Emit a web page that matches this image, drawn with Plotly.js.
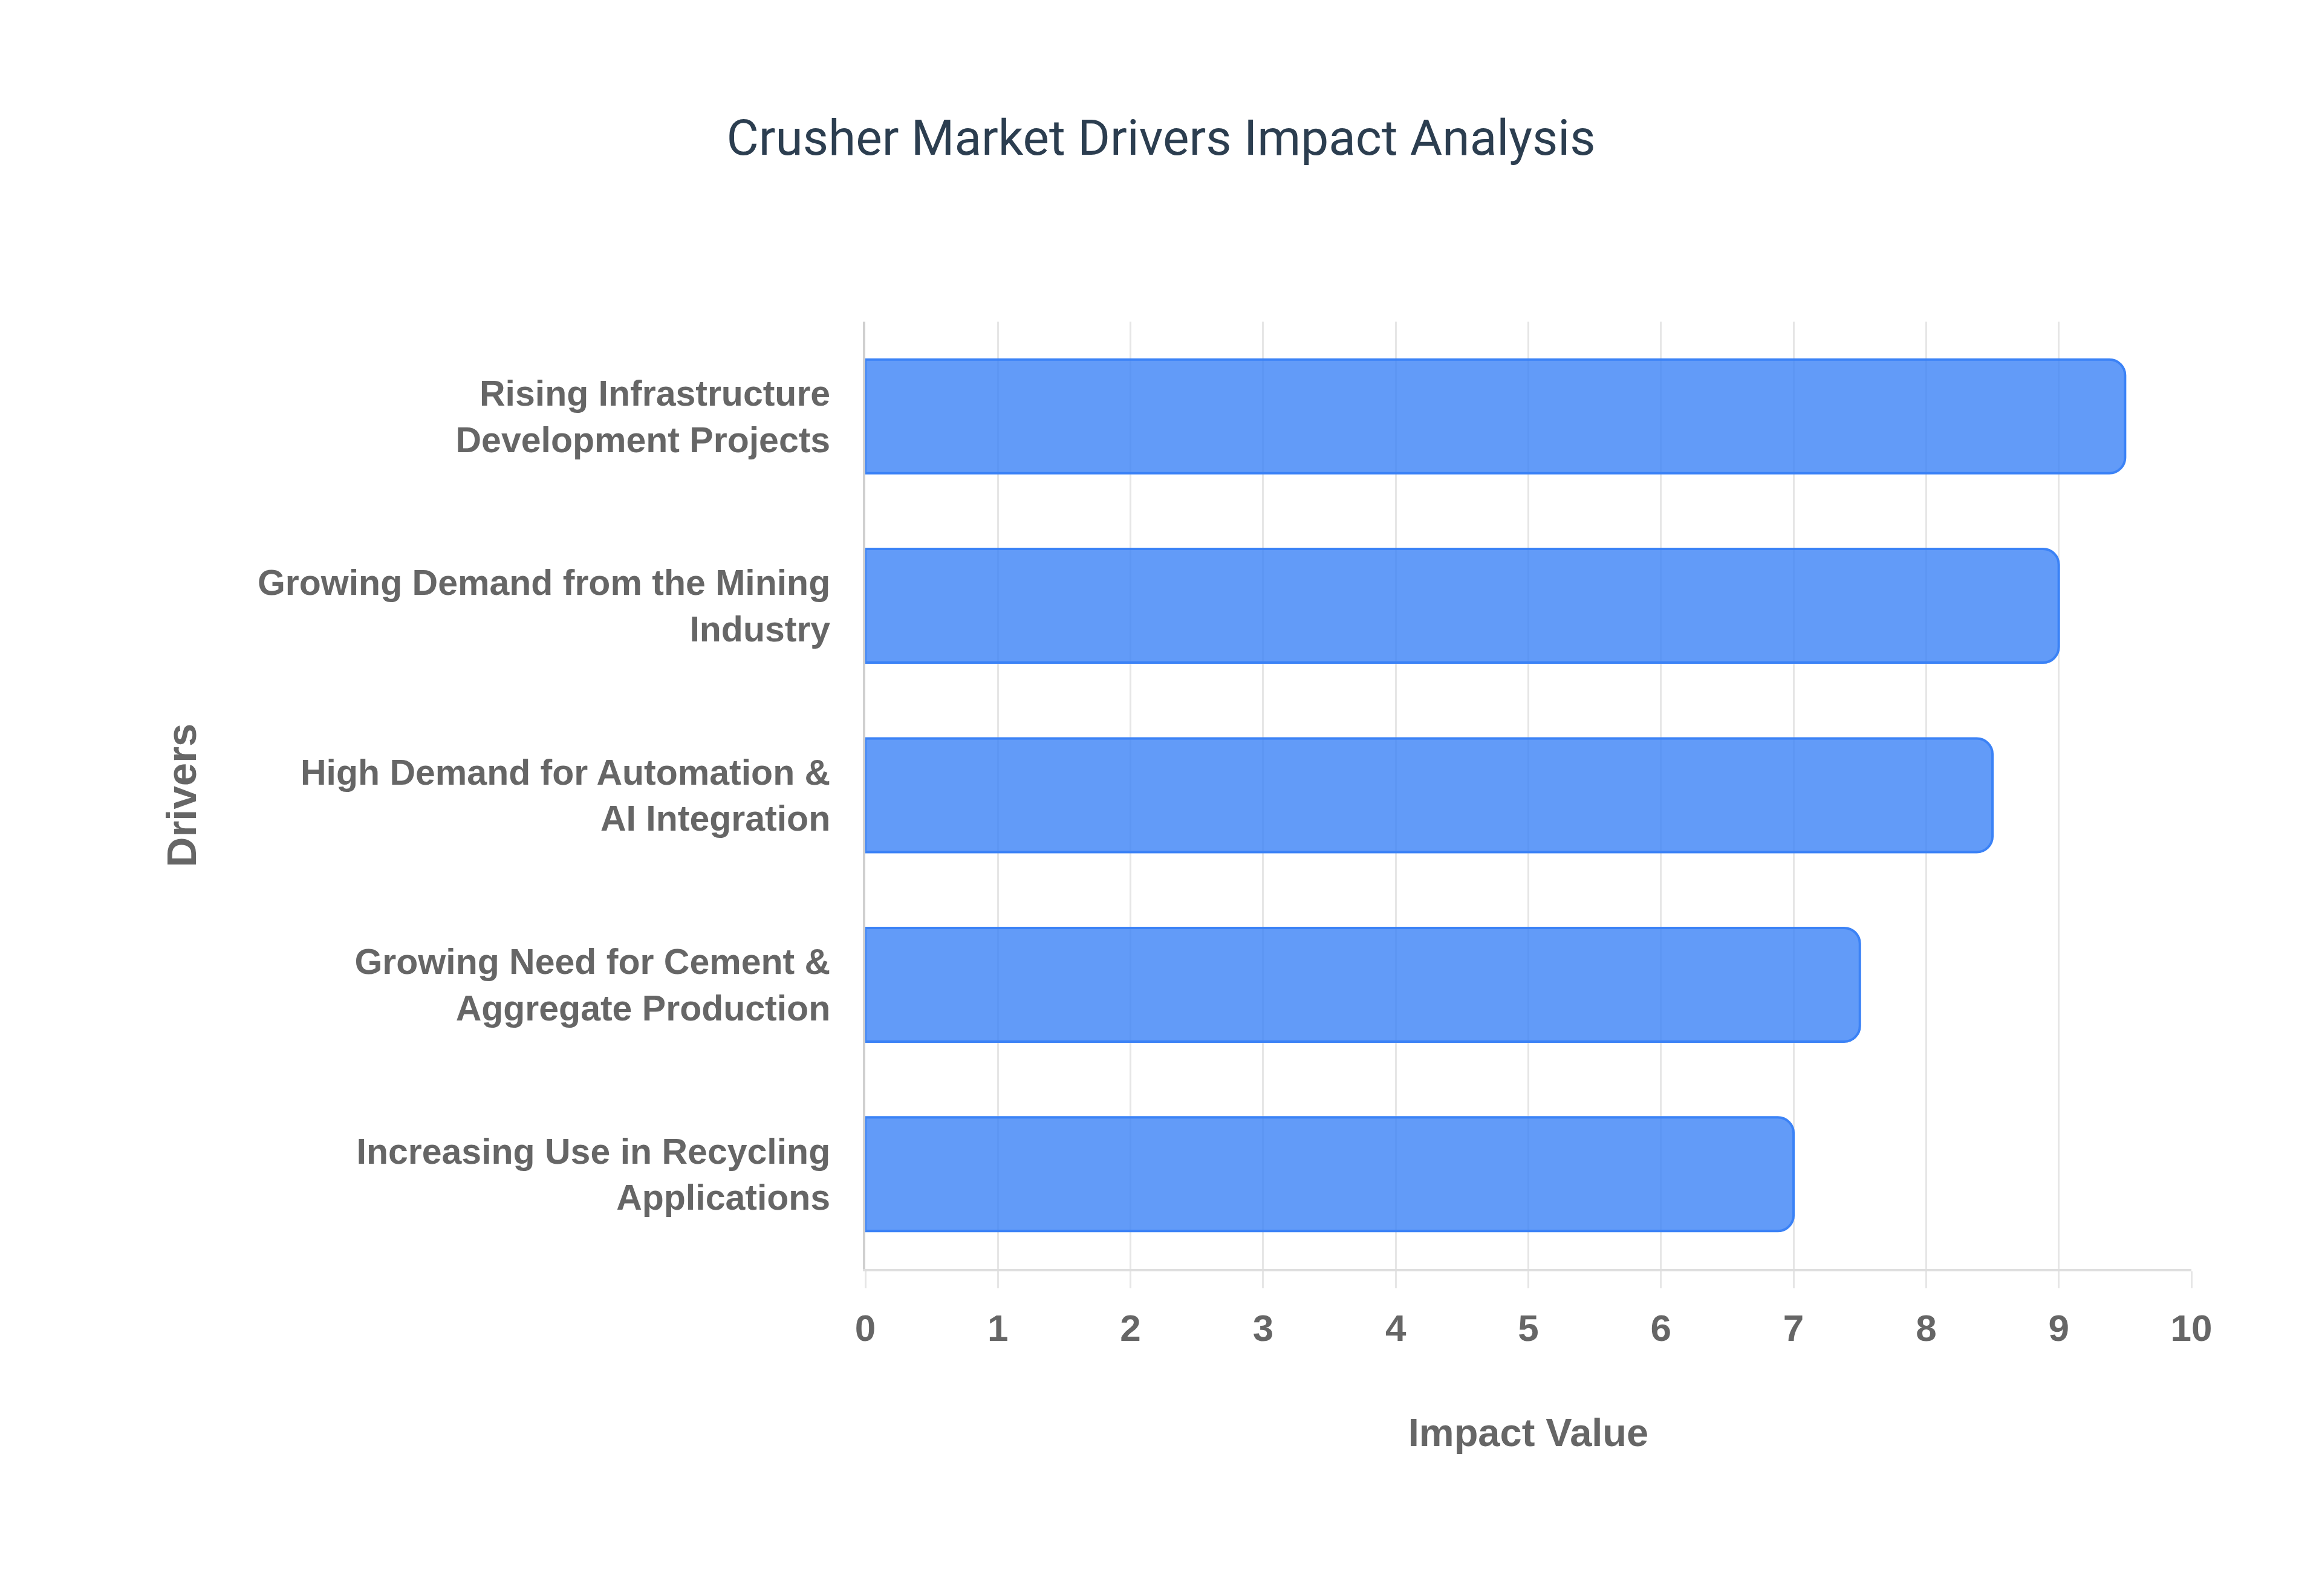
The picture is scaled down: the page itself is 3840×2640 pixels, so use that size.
<!DOCTYPE html>
<html>
<head>
<meta charset="utf-8">
<script src="https://cdn.plot.ly/plotly-3.0.1.min.js"></script>
<style>
  html, body { margin: 0; padding: 0; background: #fff; }
  #chart { width: 3840px; height: 2640px; }
</style>
</head>
<body>
<div id="chart"></div>
<script>
// drivers listed top to bottom
var drivers = [
  'Rising Infrastructure<br>Development Projects',
  'Growing Demand from the Mining<br>Industry',
  'High Demand for Automation &<br>AI Integration',
  'Growing Need for Cement &<br>Aggregate Production',
  'Increasing Use in Recycling<br>Applications'
];
var impact = [9.5, 9.0, 8.5, 7.5, 7.0];
var xTicks = [0, 1, 2, 3, 4, 5, 6, 7, 8, 9, 10];

var trace = {
  type: 'bar',
  orientation: 'h',
  y: drivers,
  x: impact,
  marker: {
    color: 'rgba(59,130,246,0.8)',
    line: {color: 'rgb(59,130,246)', width: 4},
    cornerradius: 26
  },
  hoverinfo: 'x+y'
};

var gridCol = '#e6e6e6';
var labelFont = '"Liberation Sans", Arial, sans-serif';

var layout = {
  width: 3840,
  height: 2640,
  margin: {l: 1431, r: 216, t: 532, b: 541},
  paper_bgcolor: '#ffffff',
  plot_bgcolor: '#ffffff',
  showlegend: false,
  bargap: 0.4,
  title: {
    text: 'Crusher Market Drivers Impact Analysis',
    x: 0.5,
    xanchor: 'center',
    y: 0.914,
    yanchor: 'middle',
    font: {family: 'Roboto, Arial, sans-serif', size: 82, color: '#2c3e50'}
  },
  xaxis: {
    range: [0, 10],
    tickvals: xTicks,
    showgrid: true,
    gridcolor: gridCol,
    gridwidth: 3,
    zeroline: false,
    showline: true,
    linecolor: '#dedede',
    linewidth: 4,
    ticks: 'outside',
    ticklen: 28,
    tickwidth: 3,
    tickcolor: gridCol,
    ticklabelstandoff: 13,
    tickfont: {family: labelFont, size: 62, color: '#666666', weight: 'bold'},
    title: {
      text: 'Impact Value',
      standoff: 117,
      font: {family: labelFont, size: 65, color: '#666666', weight: 'bold'}
    },
    fixedrange: true
  },
  yaxis: {
    autorange: 'reversed',
    showgrid: false,
    zeroline: false,
    showline: true,
    linecolor: '#d0d0d0',
    linewidth: 4,
    ticks: '',
    ticklabelstandoff: 42,
    tickfont: {family: labelFont, size: 59, color: '#666666', weight: 'bold'},
    title: {
      text: 'Drivers',
      standoff: 80,
      font: {family: labelFont, size: 69, color: '#666666', weight: 'bold'}
    },
    fixedrange: true
  }
};

Plotly.newPlot('chart', [trace], layout, {displayModeBar: false, responsive: false});
</script>
</body>
</html>
